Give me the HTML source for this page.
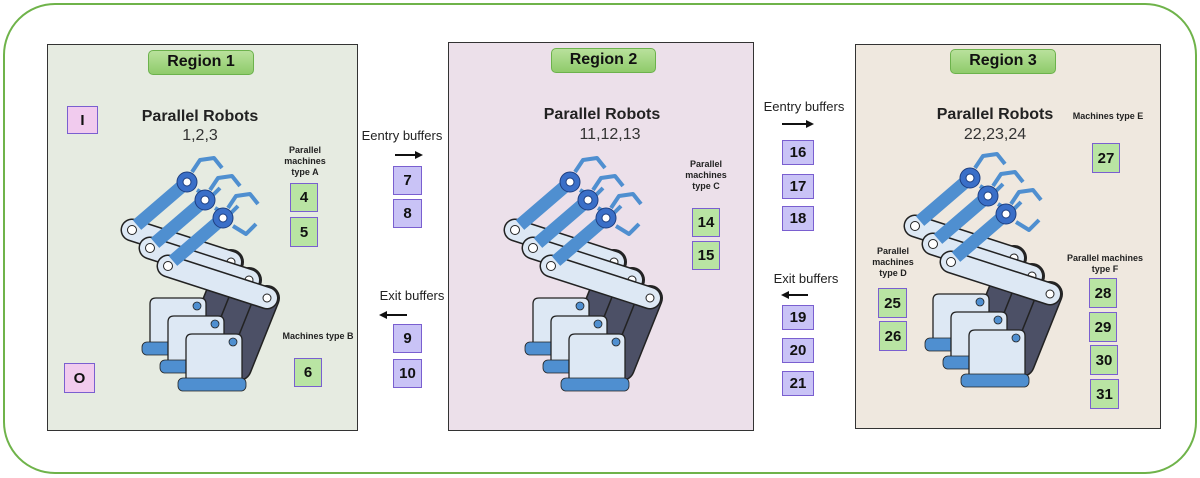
<!DOCTYPE html>
<html><head><meta charset="utf-8"><style>
*{margin:0;padding:0;box-sizing:border-box}
body{width:1200px;height:478px;background:#fff;position:relative;overflow:hidden;font-family:"Liberation Sans",Arial,sans-serif}
.abs{position:absolute}
.outer{left:3px;top:3px;width:1194px;height:471px;border:2px solid #6fb34a;border-radius:52px}
.reg{border:1.5px solid #333}
.pill{height:25px;border:1.5px solid #6cb24c;border-radius:5px;background:linear-gradient(#b9e19c,#8fcb6b);font-weight:bold;font-size:16px;text-align:center;line-height:22px;color:#111}
.box{border:1.5px solid #7a5fd0;font-weight:bold;font-size:15px;text-align:center;color:#111;display:flex;align-items:center;justify-content:center}
.g{background:#b9e4a3}
.p{background:#c9c3f6}
.k{background:#f1cbee}
.sm{font-size:9px;font-weight:bold;line-height:11px;text-align:center;color:#222}
.pr{font-size:16px;font-weight:bold;color:#222;text-align:center}
.nums{font-size:16px;color:#333;text-align:center}
.buf{font-size:13px;color:#222;text-align:center;white-space:nowrap}
</style></head><body>
<div class="abs outer"></div>
<div class="abs reg" style="left:47px;top:44px;width:311px;height:387px;background:#e6ebe1"></div>
<div class="abs reg" style="left:448px;top:42px;width:306px;height:389px;background:#ece0ea"></div>
<div class="abs reg" style="left:855px;top:44px;width:306px;height:385px;background:#efe8df"></div>

<svg class="abs" style="left:0;top:0" width="1200" height="478">
<defs>
<g id="arm">
 <line x1="231" y1="262" x2="203" y2="332" stroke="#222" stroke-width="26" stroke-linecap="round"/>
 <line x1="231" y1="262" x2="203" y2="332" stroke="#4c5066" stroke-width="23" stroke-linecap="round"/>
 <path d="M150 345 V304 Q150 298 156 298 H200 Q206 298 206 304 V345 Z" fill="#dde8f4" stroke="#222" stroke-width="1.3"/>
 <circle cx="197" cy="306" r="4" fill="#4f8fd0" stroke="#222" stroke-width="0.8"/>
 <rect x="142" y="342" width="68" height="13" rx="5" fill="#4f8fd0" stroke="#222" stroke-width="0.8"/>
 <line x1="132" y1="230" x2="231" y2="262" stroke="#222" stroke-width="23" stroke-linecap="round"/>
 <line x1="132" y1="230" x2="231" y2="262" stroke="#dde8f4" stroke-width="20" stroke-linecap="round"/>
 <circle cx="231" cy="262" r="4" fill="#fff" stroke="#222"/>
 <circle cx="132" cy="230" r="4.5" fill="#fff" stroke="#222"/>
 <line x1="137" y1="225" x2="187" y2="182" stroke="#4f8fd0" stroke-width="13"/>
 <polyline points="192,172 200,160 214,158 222,168" fill="none" stroke="#4f8fd0" stroke-width="4" stroke-linejoin="round"/>
 <polyline points="197,190 210,198 220,188" fill="none" stroke="#4f8fd0" stroke-width="4" stroke-linejoin="round"/>
 <circle cx="187" cy="182" r="10" fill="#3a6fc8" stroke="#1e3f80" stroke-width="1"/>
 <circle cx="187" cy="182" r="4" fill="#fff" stroke="#1e3f80"/>
</g>
<g id="robot">
 <use href="#arm"/>
 <use href="#arm" transform="translate(18,18)"/>
 <use href="#arm" transform="translate(36,36)"/>
</g>
<marker id="ah" markerWidth="4" markerHeight="4" refX="3" refY="2" orient="auto"><path d="M0,0 L4,2 L0,4 Z" fill="#111"/></marker>
</defs>
<use href="#robot"/>
<use href="#robot" transform="translate(383,0)"/>
<use href="#robot" transform="translate(783,-4)"/>
<line x1="395" y1="155" x2="421" y2="155" stroke="#111" stroke-width="2" marker-end="url(#ah)"/>
<line x1="407" y1="315" x2="381" y2="315" stroke="#111" stroke-width="2" marker-end="url(#ah)"/>
<line x1="782" y1="124" x2="812" y2="124" stroke="#111" stroke-width="2" marker-end="url(#ah)"/>
<line x1="808" y1="295" x2="783" y2="295" stroke="#111" stroke-width="2" marker-end="url(#ah)"/>
</svg>

<div class="abs pill" style="left:148px;top:50px;width:106px">Region 1</div>
<div class="abs pill" style="left:551px;top:48px;width:105px">Region 2</div>
<div class="abs pill" style="left:950px;top:49px;width:106px">Region 3</div>

<div class="abs pr" style="left:120px;top:108px;width:160px">Parallel Robots</div>
<div class="abs nums" style="left:120px;top:127px;width:160px">1,2,3</div>
<div class="abs pr" style="left:522px;top:106px;width:160px">Parallel Robots</div>
<div class="abs nums" style="left:530px;top:126px;width:160px">11,12,13</div>
<div class="abs pr" style="left:915px;top:106px;width:160px">Parallel Robots</div>
<div class="abs nums" style="left:915px;top:126px;width:160px">22,23,24</div>

<div class="abs box k" style="left:67px;top:106px;width:31px;height:28px">I</div>
<div class="abs box k" style="left:64px;top:363px;width:31px;height:30px">O</div>
<div class="abs sm" style="left:270px;top:145px;width:70px">Parallel<br>machines<br>type A</div>
<div class="abs box g" style="left:290px;top:183px;width:28px;height:29px">4</div>
<div class="abs box g" style="left:290px;top:217px;width:28px;height:30px">5</div>
<div class="abs sm" style="left:268px;top:331px;width:100px">Machines type B</div>
<div class="abs box g" style="left:294px;top:358px;width:28px;height:29px">6</div>

<div class="abs buf" style="left:352px;top:128px;width:100px">Eentry buffers</div>
<div class="abs box p" style="left:393px;top:166px;width:29px;height:29px">7</div>
<div class="abs box p" style="left:393px;top:199px;width:29px;height:29px">8</div>
<div class="abs buf" style="left:362px;top:288px;width:100px">Exit buffers</div>
<div class="abs box p" style="left:393px;top:324px;width:29px;height:29px">9</div>
<div class="abs box p" style="left:393px;top:359px;width:29px;height:29px">10</div>

<div class="abs sm" style="left:670px;top:159px;width:72px">Parallel<br>machines<br>type C</div>
<div class="abs box g" style="left:692px;top:208px;width:28px;height:29px">14</div>
<div class="abs box g" style="left:692px;top:241px;width:28px;height:29px">15</div>

<div class="abs buf" style="left:754px;top:99px;width:100px">Eentry buffers</div>
<div class="abs box p" style="left:782px;top:140px;width:32px;height:25px">16</div>
<div class="abs box p" style="left:782px;top:174px;width:32px;height:25px">17</div>
<div class="abs box p" style="left:782px;top:206px;width:32px;height:25px">18</div>
<div class="abs buf" style="left:756px;top:271px;width:100px">Exit buffers</div>
<div class="abs box p" style="left:782px;top:305px;width:32px;height:25px">19</div>
<div class="abs box p" style="left:782px;top:338px;width:32px;height:25px">20</div>
<div class="abs box p" style="left:782px;top:371px;width:32px;height:25px">21</div>

<div class="abs sm" style="left:1058px;top:111px;width:100px">Machines type E</div>
<div class="abs box g" style="left:1092px;top:143px;width:28px;height:30px">27</div>
<div class="abs sm" style="left:858px;top:246px;width:70px">Parallel<br>machines<br>type D</div>
<div class="abs box g" style="left:878px;top:288px;width:29px;height:30px">25</div>
<div class="abs box g" style="left:879px;top:321px;width:28px;height:30px">26</div>
<div class="abs sm" style="left:1055px;top:253px;width:100px">Parallel machines<br>type F</div>
<div class="abs box g" style="left:1089px;top:278px;width:28px;height:30px">28</div>
<div class="abs box g" style="left:1089px;top:312px;width:28px;height:30px">29</div>
<div class="abs box g" style="left:1090px;top:345px;width:28px;height:30px">30</div>
<div class="abs box g" style="left:1090px;top:379px;width:29px;height:30px">31</div>
</body></html>
